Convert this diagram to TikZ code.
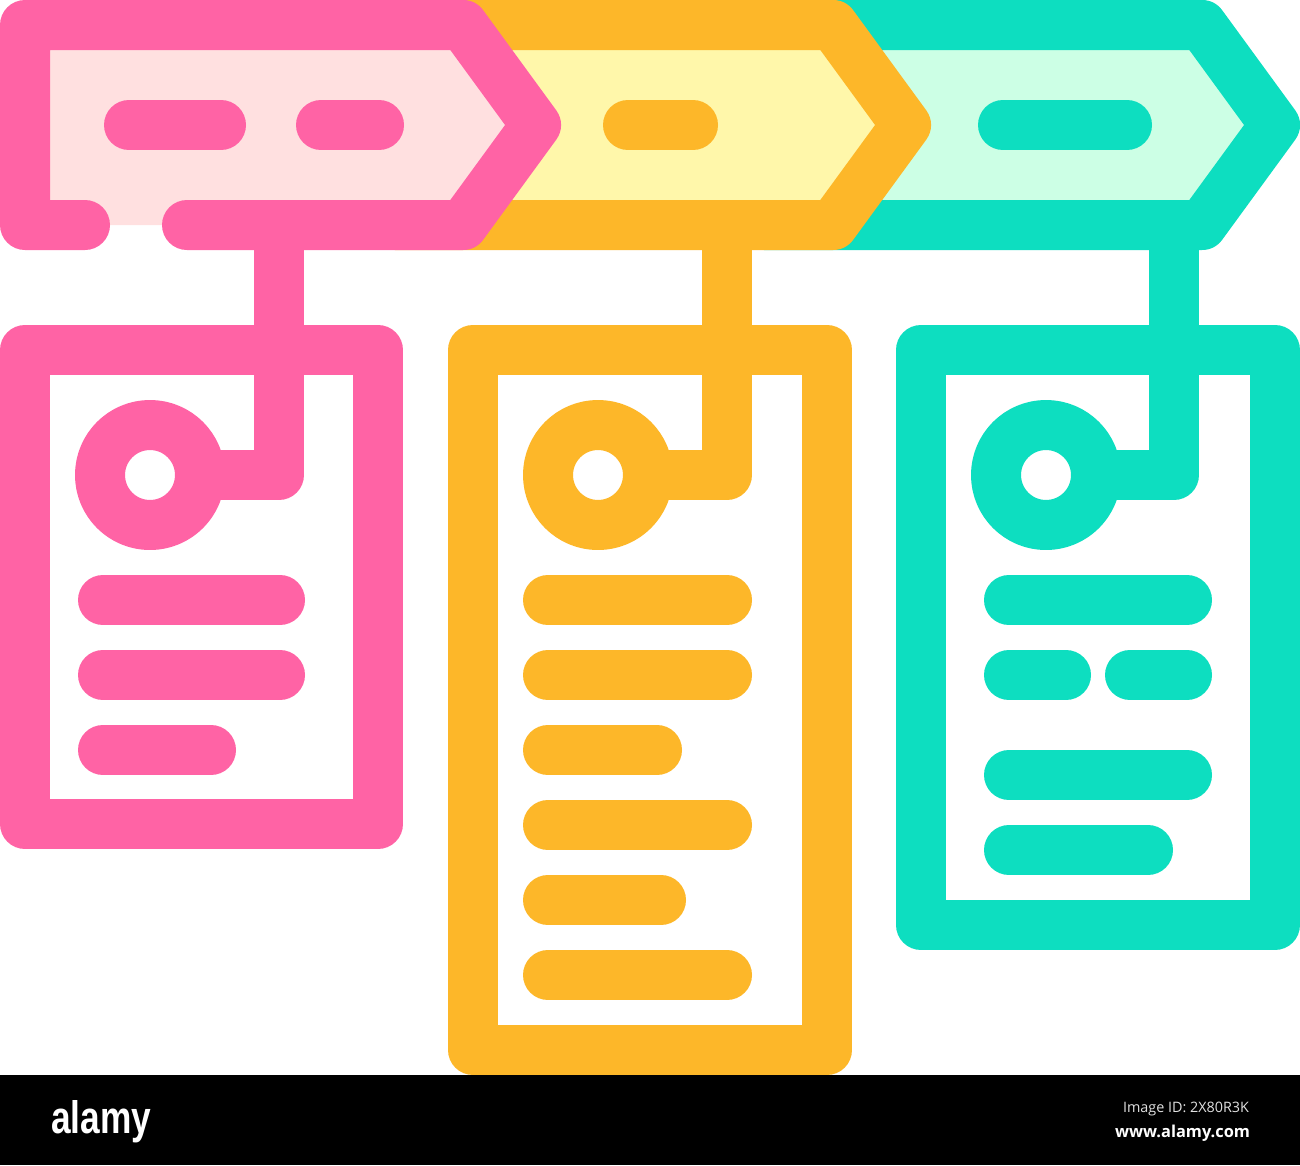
\documentclass[tikz,border=0pt]{standalone}
\usepackage{fontspec}
\setmainfont{Liberation Sans}
\newfontfamily\opensans{Open Sans}
\usepackage{graphicx}
\definecolor{pinkc}{RGB}{255,99,165}
\definecolor{pinkf}{RGB}{255,224,224}
\definecolor{orangec}{RGB}{253,183,41}
\definecolor{yellowf}{RGB}{255,247,170}
\definecolor{tealc}{RGB}{13,222,192}
\definecolor{mintf}{RGB}{204,255,229}
\definecolor{idgray}{RGB}{225,225,225}
\begin{document}
\begin{tikzpicture}[x=1pt,y=-1pt,
  icon/.style={line width=50pt, line cap=round, line join=round},
  bandtext/.style={inner sep=0pt, outer sep=0pt, anchor=base west}]
\useasboundingbox (0,0) rectangle (1300,1165);
\fill[white] (0,0) rectangle (1300,1165);

% ---- arrow banners (drawn right to left so each overlaps the next)
\foreach \dx/\c/\f in {739/tealc/mintf, 370/orangec/yellowf} {
  \begin{scope}[xshift=\dx pt]
    \fill[\f] (25,25) -- (463,25) -- (536,125) -- (463,225) -- (25,225) -- cycle;
    \draw[icon,\c] (25,25) -- (463,25) -- (536,125) -- (463,225) -- (25,225) -- cycle;
  \end{scope}
}
\fill[pinkf] (25,25) -- (463,25) -- (536,125) -- (463,225) -- (25,225) -- cycle;
\draw[icon,pinkc] (187,225) -- (463,225) -- (536,125) -- (463,25) -- (25,25) -- (25,225) -- (85,225);

% dashes in banners
\draw[icon,pinkc] (129,125) -- (221,125);
\draw[icon,pinkc] (321,125) -- (379,125);
\draw[icon,orangec] (628,125) -- (693,125);
\draw[icon,tealc] (1003,125) -- (1127,125);

% ---- pink card
\coordinate (pc) at (150,475);
\draw[icon,pinkc] (25,350) rectangle (378,824);
\draw[icon,pinkc] (279,225) -- (279,475) -- (200,475);
\draw[icon,pinkc] (pc) circle[radius=50pt];
\draw[icon,pinkc] (103,600) -- (280,600);
\draw[icon,pinkc] (103,675) -- (280,675);
\draw[icon,pinkc] (103,750) -- (211,750);

% ---- orange card
\coordinate (oc) at (598,475);
\draw[icon,orangec] (473,350) rectangle (827,1050);
\draw[icon,orangec] (727,225) -- (727,475) -- (648,475);
\draw[icon,orangec] (oc) circle[radius=50pt];
\draw[icon,orangec] (548,600) -- (727,600);
\draw[icon,orangec] (548,675) -- (727,675);
\draw[icon,orangec] (548,750) -- (657,750);
\draw[icon,orangec] (548,825) -- (727,825);
\draw[icon,orangec] (548,900) -- (661,900);
\draw[icon,orangec] (548,975) -- (727,975);

% ---- teal card
\coordinate (tc) at (1046,475);
\draw[icon,tealc] (921,350) rectangle (1275,925);
\draw[icon,tealc] (1174,225) -- (1174,475) -- (1096,475);
\draw[icon,tealc] (tc) circle[radius=50pt];
\draw[icon,tealc] (1009,600) -- (1187,600);
\draw[icon,tealc] (1009,675) -- (1066,675);
\draw[icon,tealc] (1130,675) -- (1187,675);
\draw[icon,tealc] (1009,775) -- (1187,775);
\draw[icon,tealc] (1009,850) -- (1148,850);

% ---- bottom band
\fill[black] (0,1075) rectangle (1300,1165);
\node[bandtext, text=white] (logo) at (51,1133)
  {\resizebox{100pt}{33pt}{\bfseries alamy}};
\node[bandtext, text=idgray] (imgid) at (1123,1112)
  {\resizebox{126pt}{!}{\opensans Image ID: 2X80R3K}};
\node[bandtext, text=white] (www) at (1115,1137)
  {\resizebox{135pt}{!}{\opensans\bfseries www.alamy.com}};
\end{tikzpicture}
\end{document}
